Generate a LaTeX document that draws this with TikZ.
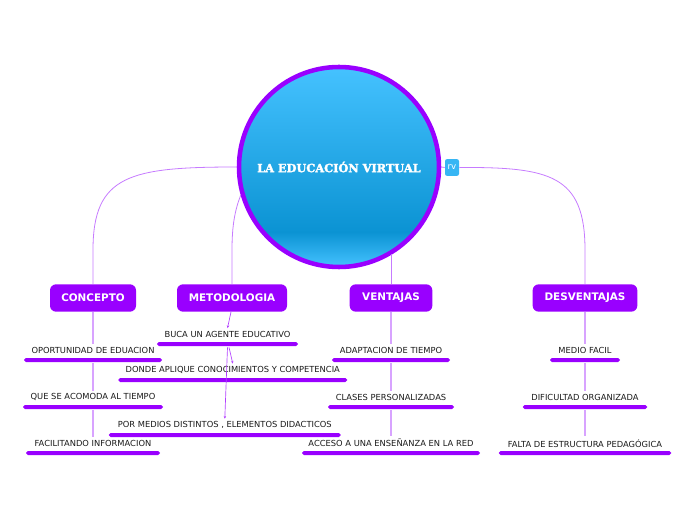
\documentclass[tikz,border=0pt]{standalone}
\usepackage{fontspec}
\setmainfont{DejaVu Sans}
\newfontfamily\titlefont[BoldFeatures={FakeBold=2.5}]{DejaVu Serif}
\usetikzlibrary{arrows.meta}
\definecolor{mypurple}{HTML}{9900FF}
\definecolor{mylink}{HTML}{C67BFF}
\definecolor{mystem}{HTML}{D8A3FF}
\definecolor{eduhi}{HTML}{45C2FF}
\definecolor{edulow}{HTML}{0B93D3}
\pgfdeclareverticalshading{eduball}{100bp}{color(0bp)=(eduhi); color(25bp)=(eduhi); color(33.75bp)=(edulow); color(75bp)=(eduhi); color(100bp)=(eduhi)}
\tikzset{
  ball/.style={circle,draw=mypurple,line width=3.4pt,minimum size=150pt,shading=eduball,inner sep=0pt,text=white,font=\titlefont\bfseries\fontsize{8.5}{11}\selectfont},
  tag/.style={rectangle,rounded corners=1.5pt,fill=eduhi!75!edulow,text=white,minimum width=10.5pt,minimum height=12.5pt,inner sep=0pt,font=\fontsize{6.5}{7}\selectfont},
  head/.style={rectangle,rounded corners=4.5pt,fill=mypurple,text=white,minimum height=20.5pt,inner sep=0pt,font=\bfseries\fontsize{7.8}{10}\selectfont},
  itemtext/.style={inner sep=2pt,text=black!90,font=\fontsize{6.25}{7}\selectfont},
  itembar/.style={rectangle,rounded corners=1.4pt,fill=mypurple,minimum height=3pt,inner sep=0pt,outer sep=1pt},
  link/.style={draw=mylink,line width=0.6pt},
  stem/.style={draw=mystem,line width=1pt},
  pointer/.style={draw=mypurple!75,line width=0.5pt,-{Stealth[length=2pt,width=1.8pt]}}
}
\newcommand{\branchitem}[5]{
  \node[itembar,minimum width=#4*0.75pt] (#1b) at (#2,#3) {};
  \node[itemtext] (#1) at (#2,#3-9.8) {#5};
}
\begin{document}
\begin{tikzpicture}[x=0.75pt,y=-0.75pt]
 \useasboundingbox (0,0) rectangle (696,520);

 \node[ball] (edu) at (339,167) {LA EDUCACIÓN VIRTUAL};
 \node[tag] (tv) at (452,167.5) {rv};

 \node[head,minimum width=64.5pt] (cpt) at (93,298) {CONCEPTO};
 \node[head,minimum width=82.5pt] (met) at (232,298) {METODOLOGIA};
 \node[head,minimum width=62pt] (vta) at (391,298) {VENTAJAS};
 \node[head,minimum width=78.5pt] (dvt) at (585,298) {DESVENTAJAS};

 \branchitem{cpa}{93}{360}{138}{OPORTUNIDAD DE EDUACION}
 \branchitem{cpb}{93}{407}{140}{QUE SE ACOMODA AL TIEMPO}
 \branchitem{cpc}{93}{453}{134}{FACILITANDO INFORMACION}

 \branchitem{mea}{227.5}{344}{141}{BUCA UN AGENTE EDUCATIVO}
 \branchitem{meb}{232.8}{380}{229}{DONDE APLIQUE CONOCIMIENTOS Y COMPETENCIA}
 \branchitem{mec}{224.8}{435}{232}{POR MEDIOS DISTINTOS , ELEMENTOS DIDACTICOS}

 \branchitem{vea}{391}{360}{118}{ADAPTACION DE TIEMPO}
 \branchitem{veb}{391}{407}{126}{CLASES PERSONALIZADAS}
 \branchitem{vec}{391}{453}{178}{ACCESO A UNA ENSEÑANZA EN LA RED}

 \branchitem{dea}{585}{360}{70}{MEDIO FACIL}
 \branchitem{deb}{585}{407}{124.5}{DIFICULTAD ORGANIZADA}
 \branchitem{dec}{585}{453}{172.5}{FALTA DE ESTRUCTURA PEDAGÓGICA}

 \draw[link] (edu.west) .. controls (130,167) and (93,175) .. (93,250) -- (cpt.north);
 \draw[link] (edu.196) .. controls (235,210) and (232,225) .. (232,250) -- (met.north);
 \draw[link] (vta.north) -- (vta.north |- edu.-58.7);
 \draw[link] (edu.east) -- (tv.west);
 \draw[link] (tv.east) .. controls (550,167) and (585,175) .. (585,250) -- (dvt.north);

 \draw[stem] (cpt) -- (cpa);
 \draw[stem] (cpab) -- (cpb);
 \draw[stem] (cpbb) -- (cpc);
 \draw[stem] (vta) -- (vea);
 \draw[stem] (veab) -- (veb);
 \draw[stem] (vebb) -- (vec);
 \draw[stem] (dvt) -- (dea);
 \draw[stem] (deab) -- (deb);
 \draw[stem] (debb) -- (dec);

 \draw[pointer] (met.south) ++(-1,0) -- (mea.north);
 \draw[pointer] (meab.south) ++(1.5,0) -- (meb.north);
 \draw[pointer] (meab.south) -- (mec.north);

\end{tikzpicture}
\end{document}
